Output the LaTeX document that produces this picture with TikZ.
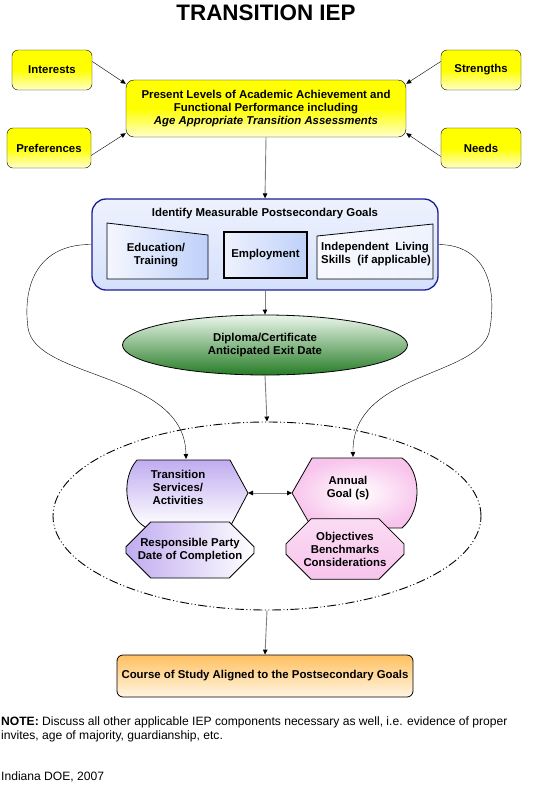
\documentclass[tikz,border=0pt]{standalone}
\usepackage{fontspec}
\setmainfont{Liberation Sans}
\setsansfont{Liberation Sans}
\usetikzlibrary{arrows.meta,shapes.geometric,shapes.misc}

\definecolor{boxyellow}{RGB}{255,255,0}
\definecolor{paleyellow}{RGB}{255,255,205}
\definecolor{goalblue}{RGB}{28,28,150}
\definecolor{lightblue}{RGB}{190,208,250}
\definecolor{paleblue}{RGB}{238,242,253}
\definecolor{darkgreen}{RGB}{38,125,38}
\definecolor{palegreen}{RGB}{236,246,236}
\definecolor{lavender}{RGB}{192,172,240}
\definecolor{goalpink}{RGB}{248,196,236}
\definecolor{courseorange}{RGB}{255,192,96}
\definecolor{paleorange}{RGB}{255,246,228}

\tikzset{
  side/.style={draw,rounded corners=6pt,minimum width=80pt,minimum height=40pt,
    top color=boxyellow,bottom color=paleyellow,middle color=boxyellow},
  part/.style={draw,line width=0.8pt},
  octa/.style={draw,chamfered rectangle,chamfered rectangle xsep=12pt,
    chamfered rectangle ysep=13pt,inner sep=0pt,align=center},
  mainline/.style={draw=gray,line width=0.9pt,-{Triangle[length=5pt,width=4.5pt,black]}},
  planline/.style={line width=0.9pt,dash pattern=on 9pt off 2.5pt on 1pt off 2.5pt on 1pt off 2.5pt}
}

\begin{document}
\begin{tikzpicture}[x=1pt,y=-1pt,font=\bfseries\fontsize{11.4}{13}\selectfont,
    >={Triangle[length=5pt,width=4.5pt]}]
  \useasboundingbox (0,0) rectangle (533,788);
  {\sffamily
    \node (title)       at (266,12.5) {\fontsize{22.4}{26}\selectfont TRANSITION IEP};

    \node (interests)   at (52,70)    [side] {Interests};
    \node (preferences) at (49,148)   [side,minimum width=84pt] {Preferences};
    \node (strengths)   at (481,70)   [side] {Strengths};
    \node (needs)       at (481,148)  [side] {Needs};
    \node (present)     at (266,108.5) [side,rounded corners=8pt,minimum width=280pt,minimum height=57pt,align=center]
      {Present Levels of Academic Achievement and\\Functional Performance including\\\textit{Age Appropriate Transition Assessments}};

    \node (goals)       at (265,244.5) [draw=goalblue,line width=1.3pt,rounded corners=14pt,minimum width=346pt,minimum height=91pt,
      top color=paleblue,bottom color=lightblue!65!white] {};
    \node (goalstitle)  at (265,214)  {Identify Measurable Postsecondary Goals};
    \draw[part,left color=paleblue!60!white,right color=lightblue] (107,223) -- (208,235) -- (208,279) -- (107,279) -- cycle;
    \node (education)   at (156,255)  [align=center] {Education/\\Training};
    \node (employment)  at (265.5,255) [draw,line width=1.3pt,minimum width=83pt,minimum height=46pt,
      left color=paleblue,right color=lightblue] {Employment};
    \draw[part,left color=paleblue!40!white,right color=paleblue] (317,236) -- (433,224) -- (433,279) -- (317,279) -- cycle;
    \node (living)      at (376,254)  [align=left] {Independent~~Living\\Skills~~(if applicable)};

    \node (diploma)     at (265,345)  [ellipse,draw,line width=0.8pt,minimum width=285pt,minimum height=60pt,
      top color=palegreen,bottom color=darkgreen,align=center] {Diploma/Certificate\\Anticipated Exit Date};

    \node (plan)        at (267,516)  [ellipse,draw,planline,minimum width=428pt,minimum height=188pt] {};

    \draw[part,top color=lavender,bottom color=white] (137,460) -- (230,460) -- (248,493) -- (230,527) -- (145,527)
      .. controls (124,514) and (121,478) .. (137,460) -- cycle;
    \draw[part,inner color=white,outer color=goalpink] (312,458) -- (402,458) .. controls (421,470) and (423,510) .. (402,528)
      -- (312,528) -- (292,493) -- cycle;
    \node (services)    at (178,487)  [align=center] {Transition\\Services/\\Activities};
    \node (annual)      at (348,488)  [align=center] {Annual\\Goal (s)};
    \node (party)       at (190,550)  [octa,line width=0.8pt,minimum width=116pt,minimum height=56pt,
      left color=lavender,right color=white] {Responsible Party\\Date of Completion};
    \node (objectives)  at (345,549)  [octa,line width=0.8pt,minimum width=118pt,minimum height=58pt,
      top color=goalpink!60!white,bottom color=goalpink] {Objectives\\Benchmarks\\Considerations};
    \coordinate (servicestip) at (248,493);
    \coordinate (annualtip)   at (292,493);
    \coordinate (servicestop) at (186,459);
    \coordinate (annualtop)   at (353,457);

    \node (course)      at (265,676)  [draw,line width=0.8pt,rounded corners=6pt,minimum width=296pt,minimum height=42pt,
      top color=courseorange,bottom color=paleorange] {Course of Study Aligned to the Postsecondary Goals};

    \node (note)        at (1,729)    [anchor=west,inner sep=0pt,align=left,font=\mdseries\fontsize{12.1}{14}\selectfont]
      {\textbf{NOTE:} Discuss all other applicable IEP components necessary as well, i.e. evidence of proper\\invites, age of majority, guardianship, etc.};
    \node (source)      at (1,777)    [anchor=west,inner sep=0pt,font=\mdseries\fontsize{12.1}{14}\selectfont] {Indiana DOE, 2007};

    \draw[->] (interests.12) -- (present.170);
    \draw[->] (preferences.-10) -- (present.190);
    \draw[->] (strengths.168) -- (present.10);
    \draw[->] (needs.192) -- (present.350);

    \draw[mainline] (present.south) -- (goals.north);
    \draw[mainline] (goals.south) -- (diploma.north);
    \draw[mainline] (diploma.south) -- (plan.north);
    \draw[mainline] (plan.south) -- (course.north);

    \draw[->] (goals.west) .. controls (40,244) and (22,282) .. (28,328) .. controls (36,380) and (185,372) .. (servicestop);
    \draw[->] (goals.east) .. controls (485,245) and (497,285) .. (490,328) .. controls (484,378) and (352,370) .. (annualtop);
    \draw[draw=gray,line width=0.9pt,{Triangle[length=5pt,width=4.5pt,black]}-{Triangle[length=5pt,width=4.5pt,black]}]
      (servicestip) -- (annualtip);
  }
\end{tikzpicture}
\end{document}
